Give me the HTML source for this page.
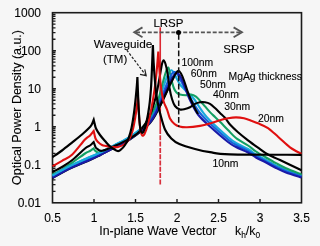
<!DOCTYPE html>
<html><head><meta charset="utf-8"><style>
html,body{margin:0;padding:0;background:#f6f6f6;}
svg{display:block;will-change:transform;}
.t{font-family:"Liberation Sans",sans-serif;font-size:11.5px;fill:#000;stroke:#000;stroke-width:0.1px;}
.s{font-family:"Liberation Sans",sans-serif;font-size:10.4px;fill:#000;stroke:#000;stroke-width:0.1px;}
</style></head><body>
<svg width="320" height="246" viewBox="0 0 320 246">
<rect x="52.5" y="12.7" width="249.0" height="190.10000000000002" fill="none" stroke="#1c1c1c" stroke-width="1.6"/>
<path d="M52.5 191.35h3.0 M52.5 184.66h3.0 M52.5 179.91h3.0 M52.5 176.23h3.0 M52.5 173.21h3.0 M52.5 170.67h3.0 M52.5 168.46h3.0 M52.5 166.52h3.0 M52.5 164.78h3.4 M52.5 153.33h3.0 M52.5 146.64h3.0 M52.5 141.89h3.0 M52.5 138.21h3.0 M52.5 135.19h3.0 M52.5 132.65h3.0 M52.5 130.44h3.0 M52.5 128.50h3.0 M52.5 126.76h3.4 M52.5 115.31h3.0 M52.5 108.62h3.0 M52.5 103.87h3.0 M52.5 100.19h3.0 M52.5 97.17h3.0 M52.5 94.63h3.0 M52.5 92.42h3.0 M52.5 90.48h3.0 M52.5 88.74h3.4 M52.5 77.29h3.0 M52.5 70.60h3.0 M52.5 65.85h3.0 M52.5 62.17h3.0 M52.5 59.15h3.0 M52.5 56.61h3.0 M52.5 54.40h3.0 M52.5 52.46h3.0 M52.5 50.72h3.4 M52.5 39.27h3.0 M52.5 32.58h3.0 M52.5 27.83h3.0 M52.5 24.15h3.0 M52.5 21.13h3.0 M52.5 18.59h3.0 M52.5 16.38h3.0 M52.5 14.44h3.0 M94.00 202.8v-3.8 M135.50 202.8v-3.8 M177.00 202.8v-3.8 M218.50 202.8v-3.8 M260.00 202.8v-3.8" stroke="#1c1c1c" stroke-width="1.4" fill="none"/>
<path d="M160.25 27.3V129" stroke="#dc2832" stroke-width="1.6" fill="none"/>
<path d="M160.25 129V185.3" stroke="#d8303c" stroke-width="1.7" stroke-dasharray="5 1.3" fill="none"/>
<path d="M52.50 178.00C55.42 176.42 63.75 171.50 70.00 168.50C76.25 165.50 85.00 162.22 90.00 160.00C95.00 157.78 95.83 157.30 100.00 155.20C104.17 153.10 110.00 150.03 115.00 147.40C120.00 144.77 124.17 143.47 130.00 139.40C135.83 135.33 145.00 128.57 150.00 123.00C155.00 117.43 157.00 111.67 160.00 106.00C163.00 100.33 166.67 91.83 168.00 89.00" stroke="#000" stroke-width="2.1" fill="none" stroke-linejoin="miter" stroke-miterlimit="4"/>
<path d="M52.50 175.50C55.42 173.92 63.75 169.08 70.00 166.00C76.25 162.92 85.00 159.20 90.00 157.00C95.00 154.80 95.83 154.80 100.00 152.80C104.17 150.80 110.00 147.67 115.00 145.00C120.00 142.33 125.00 140.05 130.00 136.80C135.00 133.55 140.83 129.80 145.00 125.50C149.17 121.20 152.17 116.75 155.00 111.00C157.83 105.25 160.08 96.50 162.00 91.00C163.92 85.50 165.28 81.17 166.50 78.00C167.72 74.83 168.45 73.30 169.30 72.00C170.15 70.70 170.82 70.03 171.60 70.20C172.38 70.37 173.10 71.53 174.00 73.00C174.90 74.47 176.00 77.08 177.00 79.00C178.00 80.92 178.50 82.50 180.00 84.50C181.50 86.50 183.73 88.67 186.00 91.00C188.27 93.33 190.93 95.17 193.60 98.50C196.27 101.83 199.27 107.33 202.00 111.00C204.73 114.67 205.67 116.17 210.00 120.50C214.33 124.83 223.67 133.25 228.00 137.00C232.33 140.75 232.67 141.00 236.00 143.00C239.33 145.00 244.67 147.08 248.00 149.00C251.33 150.92 253.00 152.67 256.00 154.50C259.00 156.33 262.67 158.17 266.00 160.00C269.33 161.83 272.67 163.83 276.00 165.50C279.33 167.17 281.75 168.33 286.00 170.00C290.25 171.67 298.92 174.58 301.50 175.50" stroke="#18aadc" stroke-width="2.1" fill="none" stroke-linejoin="miter" stroke-miterlimit="4"/>
<path d="M52.50 174.60C54.08 173.77 58.75 171.57 62.00 169.60C65.25 167.63 68.17 165.48 72.00 162.80C75.83 160.12 82.00 155.47 85.00 153.50C88.00 151.53 88.58 151.83 90.00 151.00C91.42 150.17 92.92 148.92 93.50 148.50C93.83 148.92 94.42 150.38 95.50 151.00C96.58 151.62 96.75 153.13 100.00 152.20C103.25 151.27 110.00 147.80 115.00 145.40C120.00 143.00 125.83 140.28 130.00 137.80C134.17 135.32 136.67 133.97 140.00 130.50C143.33 127.03 147.00 122.08 150.00 117.00C153.00 111.92 155.83 105.83 158.00 100.00C160.17 94.17 161.67 86.75 163.00 82.00C164.33 77.25 165.12 73.92 166.00 71.50C166.88 69.08 167.63 67.17 168.30 67.50C168.97 67.83 169.38 71.08 170.00 73.50C170.62 75.92 171.33 79.50 172.00 82.00C172.67 84.50 173.25 86.75 174.00 88.50C174.75 90.25 175.50 91.48 176.50 92.50C177.50 93.52 178.42 94.15 180.00 94.60C181.58 95.05 184.17 95.20 186.00 95.20C187.83 95.20 189.33 94.37 191.00 94.60C192.67 94.83 194.50 95.58 196.00 96.60C197.50 97.62 198.50 99.07 200.00 100.70C201.50 102.33 203.33 104.50 205.00 106.40C206.67 108.30 208.33 110.33 210.00 112.10C211.67 113.87 213.33 115.38 215.00 117.00C216.67 118.62 217.83 119.63 220.00 121.80C222.17 123.97 225.33 127.30 228.00 130.00C230.67 132.70 232.67 135.42 236.00 138.00C239.33 140.58 244.67 143.25 248.00 145.50C251.33 147.75 253.00 149.50 256.00 151.50C259.00 153.50 262.67 155.55 266.00 157.50C269.33 159.45 272.67 161.40 276.00 163.20C279.33 165.00 281.75 166.40 286.00 168.30C290.25 170.20 298.92 173.55 301.50 174.60" stroke="#14a064" stroke-width="2.1" fill="none" stroke-linejoin="miter" stroke-miterlimit="4"/>
<path d="M52.50 176.60C55.42 175.03 63.75 170.22 70.00 167.20C76.25 164.18 85.00 160.70 90.00 158.50C95.00 156.30 95.83 156.00 100.00 154.00C104.17 152.00 110.00 149.07 115.00 146.50C120.00 143.93 124.17 142.93 130.00 138.60C135.83 134.27 145.00 126.77 150.00 120.50C155.00 114.23 157.33 106.75 160.00 101.00C162.67 95.25 164.33 90.00 166.00 86.00C167.67 82.00 168.92 79.17 170.00 77.00C171.08 74.83 171.73 73.83 172.50 73.00C173.27 72.17 173.85 71.92 174.60 72.00C175.35 72.08 175.93 72.00 177.00 73.50C178.07 75.00 178.58 76.58 181.00 81.00C183.42 85.42 188.33 94.67 191.50 100.00C194.67 105.33 196.92 109.08 200.00 113.00C203.08 116.92 205.33 119.08 210.00 123.50C214.67 127.92 223.67 135.92 228.00 139.50C232.33 143.08 232.67 143.12 236.00 145.00C239.33 146.88 244.67 148.97 248.00 150.80C251.33 152.63 253.00 154.25 256.00 156.00C259.00 157.75 262.67 159.50 266.00 161.30C269.33 163.10 272.67 165.13 276.00 166.80C279.33 168.47 281.75 169.67 286.00 171.30C290.25 172.93 298.92 175.72 301.50 176.60" stroke="#1464dc" stroke-width="2.1" fill="none" stroke-linejoin="miter" stroke-miterlimit="4"/>
<path d="M52.50 177.80C55.42 176.22 63.75 171.30 70.00 168.30C76.25 165.30 85.00 162.02 90.00 159.80C95.00 157.58 95.83 157.10 100.00 155.00C104.17 152.90 110.00 149.83 115.00 147.20C120.00 144.57 124.17 143.32 130.00 139.20C135.83 135.08 145.00 128.37 150.00 122.50C155.00 116.63 157.17 109.75 160.00 104.00C162.83 98.25 165.08 92.17 167.00 88.00C168.92 83.83 170.25 81.25 171.50 79.00C172.75 76.75 173.58 75.50 174.50 74.50C175.42 73.50 176.17 72.92 177.00 73.00C177.83 73.08 178.50 73.50 179.50 75.00C180.50 76.50 181.33 78.00 183.00 82.00C184.67 86.00 187.00 93.58 189.50 99.00C192.00 104.42 194.58 109.92 198.00 114.50C201.42 119.08 205.00 121.92 210.00 126.50C215.00 131.08 223.67 138.58 228.00 142.00C232.33 145.42 232.67 145.25 236.00 147.00C239.33 148.75 244.67 150.75 248.00 152.50C251.33 154.25 253.00 155.83 256.00 157.50C259.00 159.17 262.67 160.75 266.00 162.50C269.33 164.25 272.67 166.33 276.00 168.00C279.33 169.67 281.75 170.90 286.00 172.50C290.25 174.10 298.92 176.75 301.50 177.60" stroke="#1a1aa8" stroke-width="2.1" fill="none" stroke-linejoin="miter" stroke-miterlimit="4"/>
<path d="M52.50 175.50C55.42 173.92 63.75 169.08 70.00 166.00C76.25 162.92 85.00 159.20 90.00 157.00C95.00 154.80 95.83 154.80 100.00 152.80C104.17 150.80 110.00 147.67 115.00 145.00C120.00 142.33 125.00 140.05 130.00 136.80C135.00 133.55 142.50 127.38 145.00 125.50" stroke="#18aadc" stroke-width="2.1" fill="none" stroke-linejoin="miter" stroke-miterlimit="4"/>
<path d="M160.00 106.00C161.33 103.17 165.92 93.33 168.00 89.00C170.08 84.67 171.25 82.50 172.50 80.00C173.75 77.50 174.53 75.53 175.50 74.00C176.47 72.47 177.38 70.88 178.30 70.80C179.22 70.72 180.05 71.88 181.00 73.50C181.95 75.12 182.75 77.08 184.00 80.50C185.25 83.92 186.83 89.67 188.50 94.00C190.17 98.33 192.42 103.17 194.00 106.50C195.58 109.83 197.33 112.75 198.00 114.00" stroke="#000" stroke-width="2.1" fill="none" stroke-linejoin="miter" stroke-miterlimit="4"/>
<path d="M52.50 172.00C54.08 171.17 58.75 168.95 62.00 167.00C65.25 165.05 68.17 163.38 72.00 160.30C75.83 157.22 82.00 150.97 85.00 148.50C88.00 146.03 88.55 146.58 90.00 145.50C91.45 144.42 93.08 142.58 93.70 142.00C94.00 142.83 94.95 145.88 95.50 147.00C96.05 148.12 95.92 148.07 97.00 148.70C98.08 149.33 99.00 151.28 102.00 150.80C105.00 150.32 110.33 147.88 115.00 145.80C119.67 143.72 125.83 140.77 130.00 138.30C134.17 135.83 136.67 134.88 140.00 131.00C143.33 127.12 147.33 120.83 150.00 115.00C152.67 109.17 154.42 102.17 156.00 96.00C157.58 89.83 158.50 83.33 159.50 78.00C160.50 72.67 161.32 66.97 162.00 64.00C162.68 61.03 163.02 60.20 163.60 60.20C164.18 60.20 164.85 61.87 165.50 64.00C166.15 66.13 166.83 69.00 167.50 73.00C168.17 77.00 168.75 83.67 169.50 88.00C170.25 92.33 171.08 96.00 172.00 99.00C172.92 102.00 173.67 104.25 175.00 106.00C176.33 107.75 178.33 109.00 180.00 109.50C181.67 110.00 183.33 109.38 185.00 109.00C186.67 108.62 188.33 108.05 190.00 107.20C191.67 106.35 193.33 104.72 195.00 103.90C196.67 103.08 198.33 102.57 200.00 102.30C201.67 102.03 203.33 102.03 205.00 102.30C206.67 102.57 208.33 102.95 210.00 103.90C211.67 104.85 213.33 106.50 215.00 108.00C216.67 109.50 218.33 111.27 220.00 112.90C221.67 114.53 223.33 115.87 225.00 117.80C226.67 119.73 227.83 122.10 230.00 124.50C232.17 126.90 235.00 129.57 238.00 132.20C241.00 134.83 244.67 137.73 248.00 140.30C251.33 142.87 254.67 145.23 258.00 147.60C261.33 149.97 264.33 152.43 268.00 154.50C271.67 156.57 274.42 157.37 280.00 160.00C285.58 162.63 297.92 168.58 301.50 170.30" stroke="#000" stroke-width="2.1" fill="none" stroke-linejoin="miter" stroke-miterlimit="4"/>
<path d="M52.50 166.20C54.08 165.30 58.75 162.70 62.00 160.80C65.25 158.90 68.17 158.35 72.00 154.80C75.83 151.25 82.00 142.72 85.00 139.50C88.00 136.28 88.55 136.92 90.00 135.50C91.45 134.08 93.08 131.75 93.70 131.00C94.00 132.25 94.78 136.67 95.50 138.50C96.22 140.33 96.92 140.92 98.00 142.00C99.08 143.08 100.67 144.33 102.00 145.00C103.33 145.67 104.33 145.67 106.00 146.00C107.67 146.33 110.00 146.83 112.00 147.00C114.00 147.17 116.00 147.42 118.00 147.00C120.00 146.58 122.17 145.75 124.00 144.50C125.83 143.25 127.58 141.75 129.00 139.50C130.42 137.25 131.50 134.42 132.50 131.00C133.50 127.58 134.27 123.17 135.00 119.00C135.73 114.83 136.42 109.83 136.90 106.00C137.38 102.17 137.73 97.67 137.90 96.00C138.03 98.33 138.42 105.50 138.70 110.00C138.98 114.50 139.23 119.33 139.60 123.00C139.97 126.67 140.45 129.92 140.90 132.00C141.35 134.08 141.70 135.17 142.30 135.50C142.90 135.83 143.55 135.92 144.50 134.00C145.45 132.08 146.83 128.33 148.00 124.00C149.17 119.67 150.42 113.67 151.50 108.00C152.58 102.33 153.65 96.00 154.50 90.00C155.35 84.00 155.97 78.42 156.60 72.00C157.23 65.58 158.02 54.92 158.30 51.50C158.47 54.25 158.92 62.58 159.30 68.00C159.68 73.42 160.12 79.50 160.60 84.00C161.08 88.50 161.67 92.00 162.20 95.00C162.73 98.00 162.97 99.50 163.80 102.00C164.63 104.50 166.17 107.25 167.20 110.00C168.23 112.75 168.78 116.17 170.00 118.50C171.22 120.83 172.93 122.67 174.50 124.00C176.07 125.33 177.32 125.95 179.40 126.50C181.48 127.05 183.57 127.40 187.00 127.30C190.43 127.20 196.17 126.53 200.00 125.90C203.83 125.27 206.67 124.45 210.00 123.50C213.33 122.55 217.00 121.07 220.00 120.20C223.00 119.33 225.33 118.77 228.00 118.30C230.67 117.83 233.33 117.40 236.00 117.40C238.67 117.40 241.33 117.70 244.00 118.30C246.67 118.90 249.67 120.17 252.00 121.00C254.33 121.83 255.33 122.12 258.00 123.30C260.67 124.48 264.62 125.82 268.00 128.10C271.38 130.38 274.63 133.80 278.30 137.00C281.97 140.20 286.13 144.48 290.00 147.30C293.87 150.12 299.58 152.80 301.50 153.90" stroke="#e01010" stroke-width="2.1" fill="none" stroke-linejoin="miter" stroke-miterlimit="4"/>
<path d="M52.50 157.00C54.08 155.92 58.75 152.90 62.00 150.50C65.25 148.10 68.67 145.27 72.00 142.60C75.33 139.93 79.33 136.77 82.00 134.50C84.67 132.23 86.42 130.58 88.00 129.00C89.58 127.42 90.55 126.53 91.50 125.00C92.45 123.47 93.33 120.67 93.70 119.80C93.85 120.42 94.22 122.05 94.60 123.50C94.98 124.95 95.10 126.58 96.00 128.50C96.90 130.42 98.50 132.92 100.00 135.00C101.50 137.08 103.33 139.12 105.00 141.00C106.67 142.88 107.90 144.63 110.00 146.30C112.10 147.97 115.68 150.55 117.60 151.00C119.52 151.45 120.27 150.00 121.50 149.00C122.73 148.00 123.83 146.75 125.00 145.00C126.17 143.25 127.42 141.33 128.50 138.50C129.58 135.67 130.58 132.25 131.50 128.00C132.42 123.75 133.28 118.17 134.00 113.00C134.72 107.83 135.32 101.67 135.80 97.00C136.28 92.33 136.63 88.33 136.90 85.00C137.17 81.67 137.32 78.33 137.40 77.00C137.48 79.33 137.70 86.00 137.90 91.00C138.10 96.00 138.35 102.17 138.60 107.00C138.85 111.83 139.10 116.33 139.40 120.00C139.70 123.67 140.02 126.92 140.40 129.00C140.78 131.08 141.18 132.08 141.70 132.50C142.22 132.92 142.70 133.25 143.50 131.50C144.30 129.75 145.53 126.25 146.50 122.00C147.47 117.75 148.55 111.67 149.30 106.00C150.05 100.33 150.57 94.00 151.00 88.00C151.43 82.00 151.65 75.50 151.90 70.00C152.15 64.50 152.33 59.17 152.50 55.00C152.67 50.83 152.83 46.67 152.90 45.00C153.02 47.83 153.30 56.50 153.60 62.00C153.90 67.50 154.25 72.67 154.70 78.00C155.15 83.33 155.75 89.67 156.30 94.00C156.85 98.33 157.38 100.83 158.00 104.00C158.62 107.17 158.83 108.75 160.00 113.00C161.17 117.25 163.12 125.25 165.00 129.50C166.88 133.75 168.90 136.07 171.30 138.50C173.70 140.93 175.45 142.35 179.40 144.10C183.35 145.85 189.90 147.65 195.00 149.00C200.10 150.35 204.17 151.32 210.00 152.20C215.83 153.08 214.75 153.87 230.00 154.30C245.25 154.73 289.58 154.72 301.50 154.80" stroke="#000" stroke-width="2.2" fill="none" stroke-linejoin="miter" stroke-miterlimit="4"/>
<path d="M136 32.3H241" stroke="#555" stroke-width="1.7" stroke-dasharray="4 1.9" fill="none"/>
<path d="M142.5 27.4L134.2 32.3L142.5 37.3M233.6 27.4L242 32.3L233.6 37.3" stroke="#555" stroke-width="1.8" fill="none"/>
<path d="M178.7 34V127" stroke="#111" stroke-width="1.5" stroke-dasharray="5.7 2.6" fill="none"/>
<circle cx="178.5" cy="32.4" r="2.5" fill="#000"/>
<path d="M126.8 50.1L145.8 75.2" stroke="#222" stroke-width="1.2" stroke-dasharray="2.6 1.6" fill="none"/>
<path d="M144.8 69.3L146.2 75.7L140 74.4" stroke="#222" stroke-width="1.2" fill="none"/>
<text x="41" y="16.6" text-anchor="end" class="t" style="font-size:12px">1000</text>
<text x="41" y="54.6" text-anchor="end" class="t" style="font-size:12px">100</text>
<text x="41" y="92.6" text-anchor="end" class="t" style="font-size:12px">10</text>
<text x="41" y="130.7" text-anchor="end" class="t" style="font-size:12px">1</text>
<text x="41" y="168.7" text-anchor="end" class="t" style="font-size:12px">0.1</text>
<text x="41" y="206.7" text-anchor="end" class="t" style="font-size:12px">0.01</text>
<text x="52.5" y="222.2" text-anchor="middle" class="t" style="font-size:12px">0.5</text>
<text x="94.0" y="222.2" text-anchor="middle" class="t" style="font-size:12px">1</text>
<text x="135.5" y="222.2" text-anchor="middle" class="t" style="font-size:12px">1.5</text>
<text x="177.0" y="222.2" text-anchor="middle" class="t" style="font-size:12px">2</text>
<text x="218.5" y="222.2" text-anchor="middle" class="t" style="font-size:12px">2.5</text>
<text x="260.0" y="222.2" text-anchor="middle" class="t" style="font-size:12px">3</text>
<text x="301.5" y="222.2" text-anchor="middle" class="t" style="font-size:12px">3.5</text>
<text x="99.3" y="234.6" class="t" style="font-size:12.3px">In-plane Wave Vector</text>
<text x="235" y="234.6" class="t" style="font-size:12.3px">k<tspan dy="3.2" style="font-size:8.4px">h</tspan><tspan dy="-3.2">/k</tspan><tspan dy="3.2" style="font-size:8.4px">0</tspan></text>
<text transform="translate(20.6,107.5) rotate(-90)" text-anchor="middle" class="t" style="font-size:12.45px">Optical Power Density (a.u.)</text>
<text x="153.4" y="27.3" class="t">LRSP</text>
<text x="223.3" y="52.8" class="t">SRSP</text>
<text x="93.7" y="48" class="t" style="font-size:11.8px">Waveguide</text>
<text x="103" y="62.5" class="t">(TM)</text>
<text x="181.5" y="66.3" class="s">100nm</text>
<text x="190.8" y="77.4" class="s">60nm</text>
<text x="199.9" y="88.4" class="s">50nm</text>
<text x="213" y="98.3" class="s">40nm</text>
<text x="224.2" y="109.6" class="s">30nm</text>
<text x="257.9" y="121.6" class="s">20nm</text>
<text x="212.5" y="167" class="s">10nm</text>
<text x="228.5" y="79.8" class="s">MgAg thickness</text>
</svg>
</body></html>
